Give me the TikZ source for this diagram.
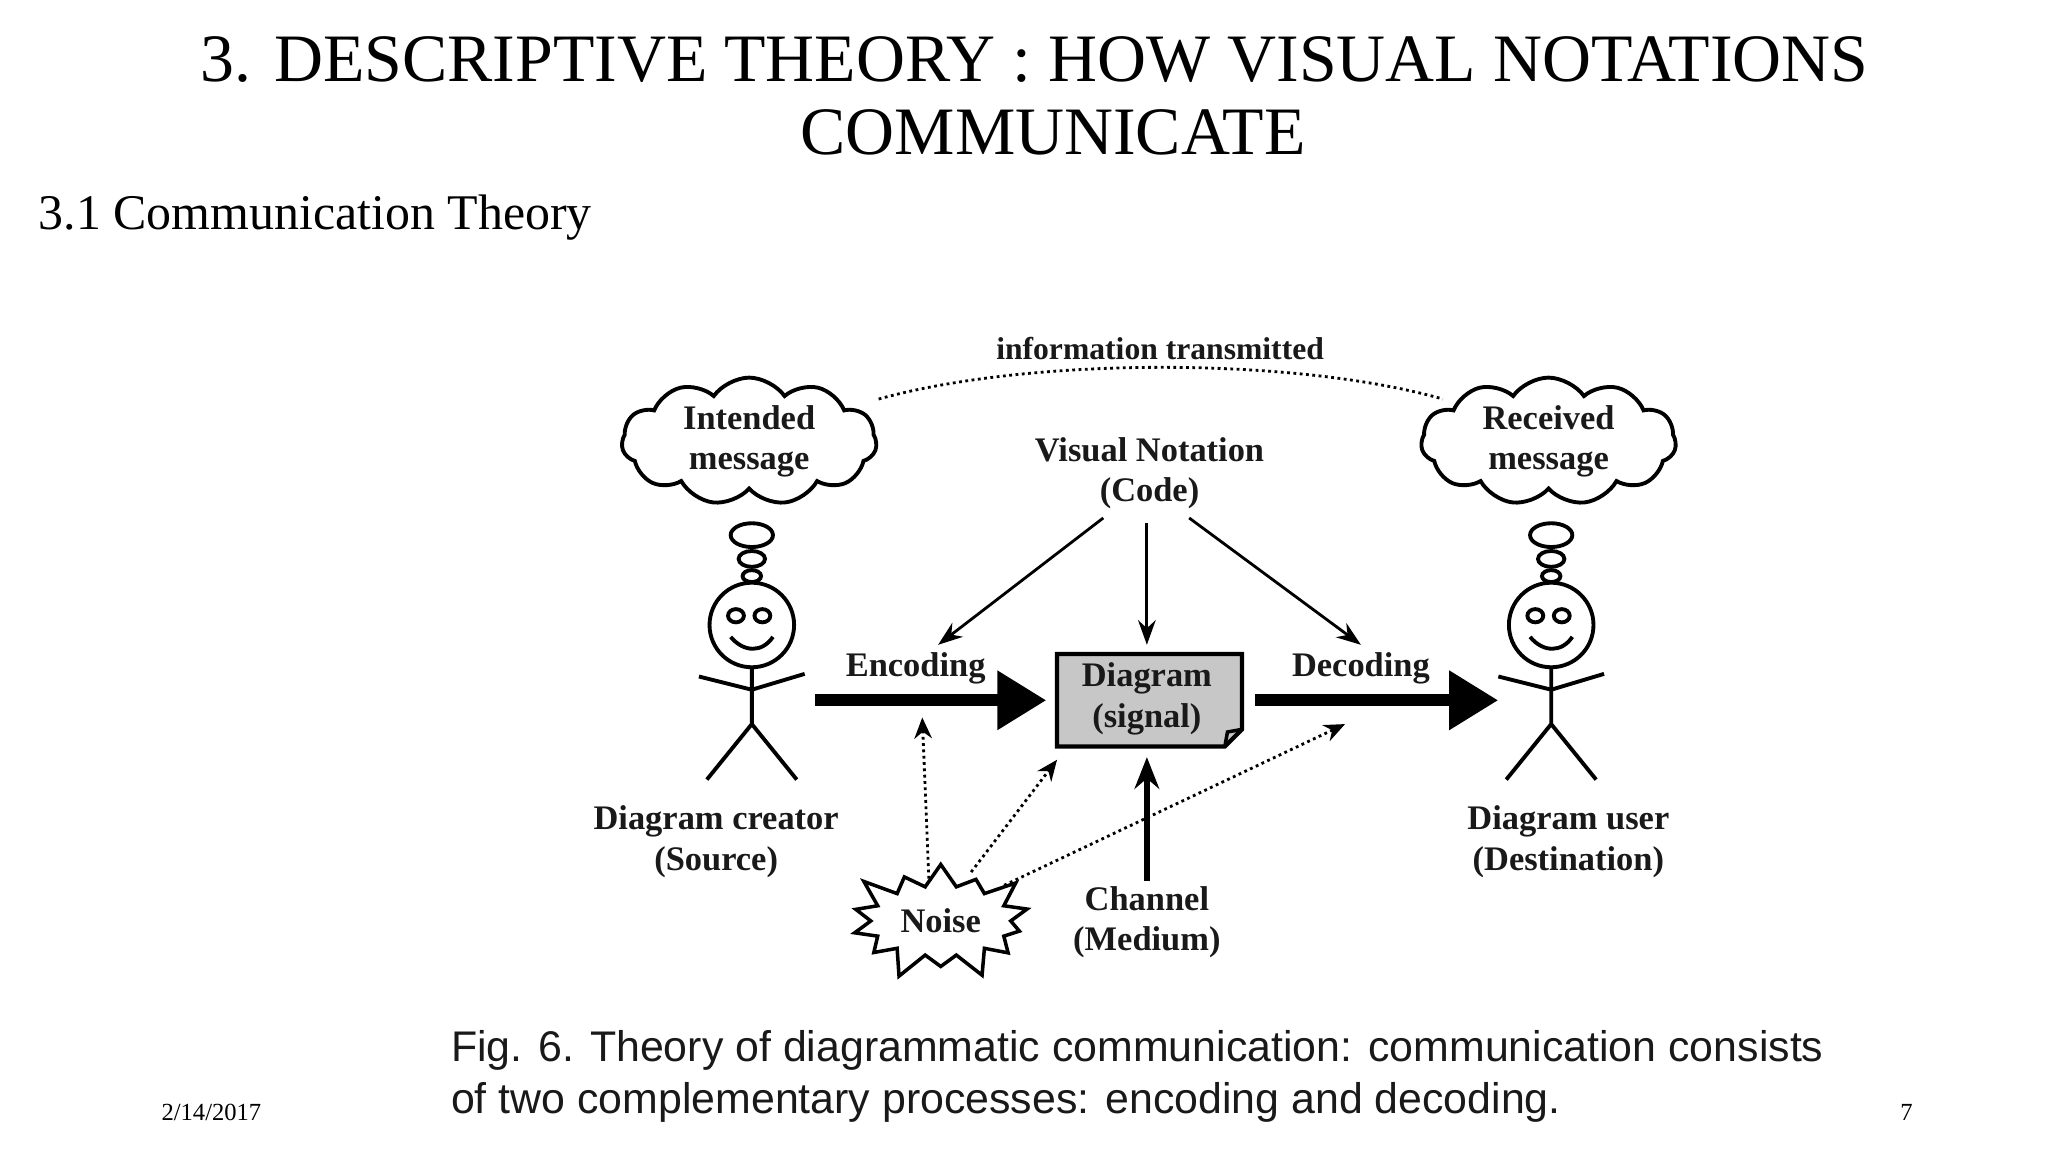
\documentclass[tikz,border=0pt]{standalone}
\usepackage{fontspec}
\setmainfont{Liberation Serif}
\newfontfamily\capfont{Liberation Sans}
\usetikzlibrary{shapes.symbols,arrows.meta}
\begin{document}
\begin{tikzpicture}[x=0.013213cm,y=-0.013213cm,
  lbl/.style={font=\fontsize{9.8}{11.5}\selectfont\bfseries,align=center,text=black!90},
  thin/.style={line width=0.8pt,-{Stealth[length=7pt,width=5pt]}},
  thick/.style={line width=3.5pt,-{Triangle[length=14pt,width=16pt]}},
  dots/.style={line width=0.8pt,densely dotted,-{Stealth[length=6pt,width=5pt]}},
  fig/.style={line width=1.1pt},
  bub/.style={cloud,cloud puffs=11,cloud puff arc=110,aspect=2,draw,line width=1.1pt,align=center,font=\fontsize{9.8}{11.5}\selectfont\bfseries,text=black!90,inner sep=0pt,minimum width=2.55cm,minimum height=1.15cm}]
\useasboundingbox (0,0) rectangle (1550,872);
\node (t1) at (783,45) {\fontsize{19.3}{22}\selectfont 3. DESCRIPTIVE THEORY : HOW VISUAL NOTATIONS};
\node (t2) at (797,100) {\fontsize{19.3}{22}\selectfont COMMUNICATE};
\node[anchor=west] (t3) at (20,165) {\fontsize{14.2}{17}\selectfont 3.1 Communication Theory};
\node[bub] (c1) at (567,334) {Intended\\message};
\node[bub] (c2) at (1172,334) {Received\\message};
\foreach \x [count=\i] in {569,1174}{
  \draw[fig] (\x,405) ellipse (16 and 9);
  \draw[fig] (\x,423) ellipse (10 and 6);
  \draw[fig] (\x,436) ellipse (7 and 4.5);
  \draw[fig] (\x,473) circle (32);
  \draw[fig] (\x-12,466) ellipse (6 and 5) (\x+8,466) ellipse (6 and 5);
  \draw[fig] (\x-16,482) .. controls (\x-6,494) and (\x+8,494) .. (\x+16,482);
  \draw[fig] (\x,505) -- (\x,548) -- (\x-34,590) (\x,548) -- (\x+34,590);
  \draw[fig] (\x-40,512) -- (\x,522) -- (\x+40,510);
}
\node[lbl] (src) at (542,637) {Diagram creator\\(Source)};
\node[lbl] (dst) at (1187,637) {Diagram user\\(Destination)};
\node[lbl] (code) at (870,358) {Visual Notation\\(Code)};
\node[lbl] (info) at (878,264) {\fontsize{9}{11}\selectfont information transmitted};
\draw[densely dotted,line width=0.8pt] (665,302) .. controls (780,270) and (980,270) .. (1092,302);
\fill[black!22] (800,495) -- (940,495) -- (940,552) -- (927,565) -- (800,565) -- cycle;
\draw[line width=1.2pt] (800,495) -- (940,495) -- (940,552) -- (927,565) -- (800,565) -- cycle;
\draw[line width=1pt] (927,565) -- (929,554) -- (940,552);
\node[lbl] (dia) at (868,529) {Diagram\\(signal)};
\node[lbl] (enc) at (693,506) {Encoding};
\node[lbl] (dec) at (1030,506) {Decoding};
\coordinate (e1) at (617,530); \coordinate (e2) at (792,530);
\coordinate (d1) at (950,530); \coordinate (d2) at (1134,530);
\draw[thick] (e1) -- (e2);
\draw[thick] (d1) -- (d2);
\coordinate (k1) at (835,392); \coordinate (k2) at (868,396); \coordinate (k3) at (900,392);
\draw[thin] (k1) -- (710,488);
\draw[thin] (k2) -- (868,488);
\draw[thin] (k3) -- (1030,488);
\node[lbl] (chan) at (868,698) {Channel\\(Medium)};
\draw[line width=1.6pt,-{Stealth[length=9pt,width=7pt]}] (868,667) -- (868,573);
\node[starburst,starburst points=14,starburst point height=0.3cm,draw,line width=1pt,lbl,inner sep=0pt,minimum width=2cm,minimum height=1.3cm] (noise) at (712,697) {Noise};
\draw[dots] (703,665) -- (698,543);
\draw[dots] (735,660) -- (800,575);
\draw[dots] (760,670) -- (1018,548);
\node[anchor=west,align=left,font=\capfont\fontsize{12.2}{14.8}\selectfont,text=black!90] (cap) at (332,815) {Fig. 6. Theory of diagrammatic communication: communication consists\\of two complementary processes: encoding and decoding.};
\node (date) at (160,842) {\fontsize{7}{8}\selectfont 2/14/2017};
\node (pg) at (1443,842) {\fontsize{7}{8}\selectfont 7};
\end{tikzpicture}
\end{document}
